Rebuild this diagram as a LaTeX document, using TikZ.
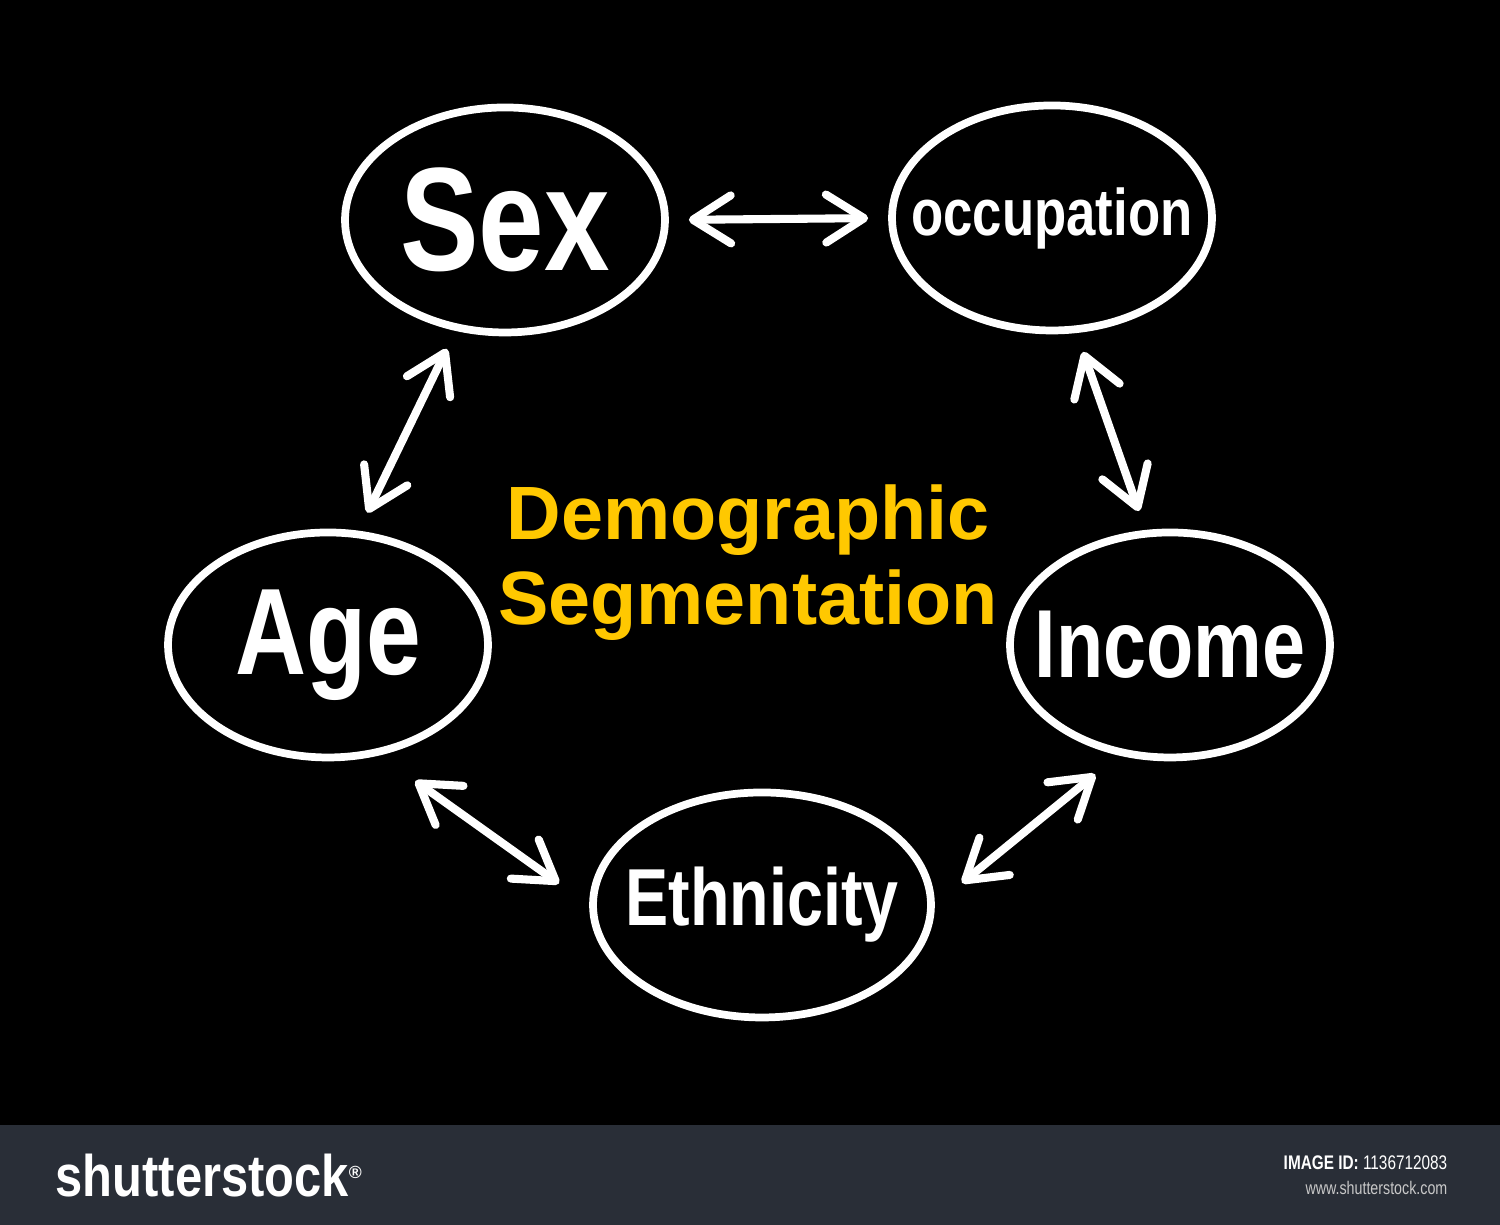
\documentclass[tikz,border=0pt]{standalone}
\usepackage{fontspec}
\setmainfont{Liberation Sans}
\usetikzlibrary{arrows.meta,shapes.geometric}

\definecolor{demoyellow}{HTML}{FFC800}
\definecolor{footergray}{HTML}{292E37}
\definecolor{urlgray}{HTML}{C8C8C8}

% text inside a bubble: no width, a little taller
\newcommand{\bubbletext}[1]{\makebox[0pt]{\scalebox{1}[1.25]{#1}}}

\tikzset{
  bubble/.style={ellipse, draw=white, line width=2.2pt, minimum width=3.2cm,
    minimum height=2.25cm, inner sep=0pt, text=white, font=\bfseries},
  link/.style={white, line width=2.3pt, line cap=round,
    >={Straight Barb[length=3.8mm,width=4.8mm,round]}, <->,
    shorten <=0.2cm, shorten >=0.2cm},
  title/.style={text=demoyellow, font=\bfseries\fontsize{21.5}{24}\selectfont,
    inner sep=0pt},
}

\begin{document}
\begin{tikzpicture}

% Background
\useasboundingbox (0,0) rectangle (15,12.25);
\fill[black] (0,0) rectangle (15,12.25);
\fill[footergray] (0,0) rectangle (15,1.0);

% Bubbles
\node[bubble, font=\bfseries\fontsize{33.5}{36}\selectfont] (sex) at (5.05,10.05) {\bubbletext{Sex}};
\node[bubble, font=\bfseries\fontsize{15}{18}\selectfont] (occ) at (10.52,10.07) {\bubbletext{occupation}};
\node[bubble, font=\bfseries\fontsize{28}{32}\selectfont] (age) at (3.28,5.80) {\bubbletext{Age}};
\node[bubble, font=\bfseries\fontsize{22}{26}\selectfont] (inc) at (11.70,5.80) {\bubbletext{Income}};
\node[bubble, minimum width=3.38cm, font=\bfseries\fontsize{18.4}{22}\selectfont] (eth) at (7.62,3.20) {\bubbletext{Ethnicity}};

% Title
\node[title, anchor=base] (demo) at (7.48,6.85) {Demographic};
\node[title, anchor=base] (seg) at (7.48,6.00) {Segmentation};

% Links
\draw[link] (sex.0) -- (occ.180);
\draw[link] (sex.-114) -- (age.75);
\draw[link] (occ.-78) -- (inc.102);
\draw[link, shorten <=0.44cm, shorten >=0.37cm] (age.-65) -- (eth.180);
\draw[link, shorten <=0.3cm, shorten >=0.35cm] (inc.-115) -- (eth.0);

% Footer
\node[anchor=base west, inner sep=0pt, text=white, font=\bfseries\fontsize{13.9}{16}\selectfont] (logo) at (0.55,0.28) {\scalebox{1}[1.2]{shutterstock}\textsuperscript{\tiny ®}};
\node[anchor=base east, inner sep=0pt, text=white, font=\fontsize{5.6}{7}\selectfont] (imgid) at (14.48,0.55) {\scalebox{0.78}[1]{\textbf{IMAGE ID:} 1136712083}};
\node[anchor=base east, inner sep=0pt, text=urlgray, font=\fontsize{5.2}{7}\selectfont] (url) at (14.48,0.30) {\scalebox{0.78}[1]{www.shutterstock.com}};

\end{tikzpicture}
\end{document}
